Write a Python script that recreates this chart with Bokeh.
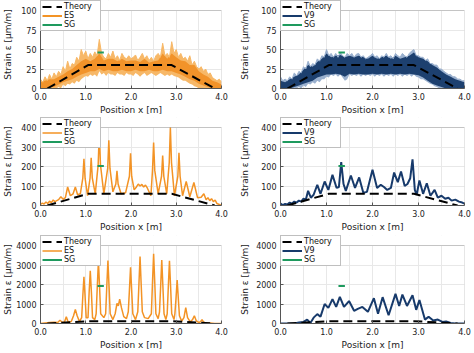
from bokeh.plotting import figure
from bokeh.models import (Range1d, FixedTicker, PrintfTickFormatter, Legend, LegendItem,
                          BoxAnnotation)
from bokeh.layouts import column, row
from bokeh.embed import file_html
from bokeh.resources import INLINE

# ---------------- data ----------------
X_TICKS = [0, 1, 2, 3, 4]
X_GRID = [0, 0.5, 1.0, 1.5, 2.0, 2.5, 3.0, 3.5, 4.0]
Y_TICKS_TOP = [0, 25, 50, 75, 100]
Y_TICKS_MID = [0, 100, 200, 300, 400]
Y_TICKS_BOT = [0, 1000, 2000, 3000, 4000]

theory_x = [0.15, 1.05, 2.90, 3.85]
theory_top = [0, 30, 30, 0]
theory_mid = [0, 60, 60, 0]
theory_bot = [0, 120, 120, 0]

sg_x = [1.26, 1.40]
sg_top = [46, 46]
sg_mid = [203, 203]
sg_bot = [1920, 1920]

# top row: noisy bands sampled every 0.05 m (outer) and 0.1 m (inner)
x_fine = [round(i * 0.05, 2) for i in range(81)]
x_coarse = [round(i * 0.1, 1) for i in range(41)]

es_top_hi = [12, 8, 15, 10, 18, 12, 20, 15, 22, 18,
             28, 22, 35, 25, 32, 30, 40, 35, 50, 42,
             48, 38, 45, 40, 47, 42, 63, 45, 40, 38,
             45, 40, 48, 38, 42, 36, 45, 40, 38, 42,
             38, 40, 43, 36, 40, 45, 38, 42, 36, 40,
             35, 42, 45, 40, 58, 42, 45, 40, 60, 45,
             50, 40, 45, 38, 40, 35, 42, 30, 35, 28,
             25, 28, 22, 25, 18, 20, 14, 12, 10, 12,
             8]
es_top_lo = [0, 0, 0, 0, 0, 0, 0, 0, 2, 0,
             5, 3, 6, 5, 8, 6, 10, 8, 12, 14,
             16, 15, 18, 16, 18, 15, 22, 18, 20, 16,
             20, 18, 18, 16, 20, 18, 18, 16, 20, 18,
             18, 16, 20, 18, 15, 18, 20, 16, 18, 20,
             18, 16, 18, 20, 18, 16, 18, 16, 18, 16,
             15, 14, 12, 10, 10, 8, 6, 5, 3, 2,
             0, 0, 0, 0, 0, 0, 0, 0, 0, 0,
             0]
es_top_hi2 = [8, 10, 12, 12, 15, 18, 22, 25, 30, 35,
              38, 35, 38, 45, 36, 38, 38, 35, 38, 35,
              36, 36, 34, 38, 33, 35, 36, 45, 38, 45,
              40, 36, 35, 30, 30, 22, 18, 15, 10, 8,
              5]
es_top_lo2 = [0, 0, 2, 2, 5, 8, 10, 12, 15, 18,
              20, 22, 22, 25, 22, 24, 22, 22, 24, 22,
              22, 24, 22, 22, 24, 22, 22, 24, 22, 22,
              20, 18, 15, 12, 10, 6, 4, 2, 0, 0,
              0]

v9_top_hi = [15, 10, 12, 10, 15, 12, 20, 16, 22, 20,
             28, 25, 35, 28, 32, 30, 38, 35, 42, 40,
             50, 42, 45, 40, 45, 40, 46, 42, 40, 45,
             42, 45, 40, 44, 45, 40, 42, 38, 40, 42,
             45, 40, 42, 38, 42, 40, 45, 40, 42, 38,
             45, 42, 40, 45, 42, 40, 45, 48, 50, 42,
             42, 40, 40, 36, 38, 32, 32, 30, 30, 25,
             25, 22, 20, 18, 18, 15, 15, 12, 12, 10,
             10]
v9_top_lo = [0, 0, 0, 0, 0, 0, 0, 0, 2, 0,
             4, 2, 6, 5, 8, 6, 10, 8, 12, 12,
             15, 14, 18, 16, 18, 15, 18, 14, 10, 12,
             18, 16, 18, 16, 18, 15, 18, 16, 18, 16,
             18, 15, 18, 16, 18, 15, 18, 16, 18, 15,
             18, 16, 18, 15, 18, 16, 18, 15, 18, 15,
             14, 12, 12, 10, 8, 6, 5, 3, 2, 0,
             0, 0, 0, 0, 0, 0, 0, 0, 0, 0,
             0]
v9_top_hi2 = [10, 8, 12, 15, 18, 24, 30, 28, 34, 38,
              45, 40, 42, 43, 40, 42, 40, 42, 40, 38,
              42, 38, 40, 42, 38, 42, 38, 40, 42, 46,
              40, 38, 35, 30, 27, 22, 18, 15, 12, 10,
              8]
v9_top_lo2 = [0, 0, 0, 2, 4, 6, 8, 10, 14, 16,
              18, 18, 19, 18, 15, 19, 18, 19, 18, 18,
              19, 18, 19, 18, 19, 18, 19, 18, 19, 18,
              17, 14, 10, 6, 4, 2, 0, 0, 0, 0,
              0]

# middle row
es_mid_x = [0.00, 0.04, 0.08, 0.12, 0.16, 0.20, 0.24, 0.28, 0.32, 0.36,
            0.40, 0.45, 0.50, 0.55, 0.60, 0.66, 0.72, 0.77, 0.82, 0.88,
            0.935, 0.96, 0.985, 1.04, 1.095, 1.12, 1.145, 1.21, 1.275, 1.30,
            1.325, 1.40, 1.485, 1.51, 1.535, 1.60, 1.665, 1.69, 1.715, 1.78,
            1.88, 1.965, 1.99, 2.015, 2.07, 2.12, 2.16, 2.20, 2.24, 2.28,
            2.32, 2.36, 2.44, 2.475, 2.50, 2.525, 2.60, 2.675, 2.70, 2.725,
            2.79, 2.845, 2.87, 2.895, 2.96, 3.035, 3.06, 3.085, 3.14, 3.22,
            3.30, 3.39, 3.47, 3.55, 3.61, 3.66, 3.70, 3.74, 3.78, 3.82,
            3.86, 3.90, 3.95, 4.00]
es_mid_y = [5, 12, 8, 18, 10, 22, 15, 28, 20, 25,
            30, 45, 32, 40, 95, 50, 60, 95, 55, 60,
            140, 240, 140, 50, 140, 245, 140, 60, 210, 380,
            210, 60, 190, 335, 190, 70, 110, 178, 110, 60,
            65, 150, 268, 150, 80, 95, 110, 100, 108, 95,
            105, 90, 50, 180, 323, 180, 60, 150, 256, 150,
            60, 220, 400, 220, 50, 150, 270, 150, 50, 123,
            45, 118, 40, 42, 60, 30, 40, 25, 35, 20,
            28, 10, 5, 0]

v9_mid_x = [0.00, 0.05, 0.10, 0.15, 0.20, 0.25, 0.30, 0.35, 0.40, 0.45,
            0.50, 0.55, 0.60, 0.66, 0.72, 0.80, 0.87, 0.96, 1.04, 1.13,
            1.22, 1.27, 1.32, 1.37, 1.42, 1.53, 1.62, 1.71, 1.80, 1.88,
            2.00, 2.10, 2.18, 2.25, 2.32, 2.40, 2.47, 2.55, 2.62, 2.70,
            2.76, 2.82, 2.87, 2.92, 2.96, 3.02, 3.10, 3.18, 3.26, 3.35,
            3.42, 3.50, 3.58, 3.65, 3.72, 3.80, 3.88, 3.95, 4.00]
v9_mid_y = [10, 2, 8, 5, 15, 10, 20, 15, 25, 20,
            35, 30, 75, 40, 55, 106, 60, 123, 80, 157,
            90, 95, 222, 110, 75, 154, 90, 144, 65, 70,
            183, 90, 106, 95, 80, 90, 169, 120, 174, 100,
            110, 140, 237, 80, 55, 128, 60, 114, 50, 80,
            40, 50, 35, 40, 25, 30, 20, 15, 10]

# bottom row
es_bot_x = [0.00, 0.20, 0.30, 0.38, 0.43, 0.48, 0.53, 0.57, 0.61, 0.68,
            0.73, 0.77, 0.81, 0.86, 0.91, 0.935, 0.96, 0.985, 1.01, 1.05,
            1.075, 1.10, 1.125, 1.15, 1.20, 1.23, 1.255, 1.28, 1.305, 1.33,
            1.40, 1.44, 1.465, 1.49, 1.515, 1.54, 1.60, 1.65, 1.69, 1.72,
            1.75, 1.79, 1.84, 1.90, 1.94, 1.965, 1.99, 2.015, 2.04, 2.10,
            2.15, 2.175, 2.20, 2.225, 2.25, 2.30, 2.38, 2.45, 2.475, 2.50,
            2.525, 2.55, 2.60, 2.63, 2.655, 2.68, 2.705, 2.73, 2.77, 2.80,
            2.825, 2.85, 2.875, 2.90, 2.95, 2.97, 2.995, 3.02, 3.045, 3.07,
            3.12, 3.17, 3.21, 3.25, 3.31, 3.36, 3.40, 3.44, 3.50, 3.54,
            3.57, 3.60, 3.65, 3.75, 3.85, 4.00]
es_bot_y = [0, 50, 60, 50, 170, 60, 80, 340, 80, 100,
            400, 720, 400, 100, 300, 1400, 2400, 1400, 300, 300,
            1600, 2700, 1600, 300, 200, 500, 1900, 3200, 1900, 500,
            300, 500, 1900, 3230, 1900, 500, 200, 500, 1030, 900,
            1250, 800, 350, 250, 600, 1700, 2880, 1700, 500, 200,
            600, 2000, 3430, 2000, 600, 300, 250, 500, 2100, 3570,
            2100, 500, 250, 600, 1900, 3260, 1900, 500, 200, 500,
            1900, 3210, 1900, 500, 200, 500, 1300, 2230, 1300, 400,
            120, 300, 810, 300, 80, 200, 395, 150, 50, 100,
            200, 80, 30, 20, 0, 0]

v9_bot_x = [0.00, 0.30, 0.40, 0.50, 0.58, 0.65, 0.72, 0.80, 0.87, 0.96,
            1.04, 1.13, 1.21, 1.29, 1.38, 1.49, 1.60, 1.68, 1.78, 1.90,
            2.03, 2.12, 2.22, 2.35, 2.50, 2.58, 2.65, 2.75, 2.87, 2.95,
            3.02, 3.14, 3.22, 3.32, 3.42, 3.52, 3.60, 3.70, 3.80, 4.00]
v9_bot_y = [0, 0, 50, 80, 200, 30, 300, 480, 350, 1000,
            800, 1250, 850, 1370, 850, 1150, 650, 750, 850, 600,
            1300, 500, 1350, 420, 1520, 900, 1480, 900, 1450, 700,
            1200, 200, 350, 150, 200, 80, 100, 30, 0, 0]

# ---------------- style ----------------
FONT = "DejaVu Sans"
ES_C = "#F39325"
ES_OUT = "#F7B868"
ES_IN = "#F2932A"
V9_C = "#173A6B"
V9_OUT = "#9AB0CE"
V9_IN = "#1D406F"
SG_C = "#1E9A5E"
FRAME_C = "#555555"

PLOT_H = 78      # height in px of the drawn plot area
EXTRA_TOP = 10   # white strip above the plot area where the legend sits


def make_fig(col, height, bbot, ymax, yticks, ms, als):
    bl, br = (40, 16) if col == 0 else (43, 10)
    if col == 1:
        als += 3
    ytop = ymax * (PLOT_H + EXTRA_TOP) / PLOT_H
    p = figure(width=237, height=height, x_range=Range1d(0, 4), y_range=Range1d(0, ytop),
               output_backend="svg", toolbar_location=None,
               min_border_top=0, min_border_bottom=bbot,
               min_border_left=bl, min_border_right=br)
    p.background_fill_color = "white"
    p.border_fill_color = "white"
    p.outline_line_color = None
    for ax in (p.xaxis[0], p.yaxis[0]):
        ax.axis_line_color = FRAME_C
        ax.major_tick_line_color = FRAME_C
        ax.major_tick_in = 3
        ax.major_tick_out = 0
        ax.minor_tick_line_color = None
        ax.major_label_text_font = FONT
        ax.major_label_text_font_size = "8px"
        ax.major_label_text_color = "#222222"
        ax.axis_label_text_font = FONT
        ax.axis_label_text_font_size = "9px"
        ax.axis_label_text_font_style = "normal"
        ax.axis_label_text_color = "#222222"
    p.xaxis.axis_label = "Position x [m]"
    p.xaxis.ticker = FixedTicker(ticks=X_TICKS)
    p.xaxis.formatter = PrintfTickFormatter(format="%.1f")
    p.xaxis.major_label_standoff = 4
    p.xaxis.axis_label_standoff = 2
    p.yaxis.axis_label = "Strain ε [μm/m]"
    p.yaxis.ticker = FixedTicker(ticks=yticks)
    p.yaxis.bounds = (0, ymax)
    p.yaxis.major_label_standoff = ms
    p.yaxis.axis_label_standoff = als
    p.xgrid.ticker = FixedTicker(ticks=X_GRID)
    p.ygrid.ticker = FixedTicker(ticks=yticks)
    p.grid.grid_line_color = "#e8e8e8"
    p.grid.grid_line_width = 1
    # white strip above the plot area (covers grid lines)
    p.add_layout(BoxAnnotation(bottom=ymax, fill_color="white", fill_alpha=1,
                               line_alpha=0, level="underlay"))
    return p


def finish(p, name, main_r, theory, sg, ymax):
    tr = p.line(theory_x, theory, line_color="black", line_width=2, line_dash="9 5")
    sr = p.line(sg_x, sg, line_color=SG_C, line_width=2)
    # frame border of the plot area
    p.add_layout(BoxAnnotation(left=0, right=4, bottom=0, top=ymax, fill_alpha=0,
                               line_color=FRAME_C, line_width=1))
    leg = Legend(items=[LegendItem(label="Theory", renderers=[tr]),
                        LegendItem(label=name, renderers=[main_r]),
                        LegendItem(label="SG", renderers=[sr])],
                 location="top_left", label_text_font=FONT, label_text_font_size="8px",
                 label_text_color="#111111",
                 label_height=9, glyph_height=9, glyph_width=20, spacing=0,
                 padding=1, margin=0, label_standoff=2, label_width=35,
                 border_line_color="#808080", border_line_width=1,
                 background_fill_color="white", background_fill_alpha=1)
    p.add_layout(leg)


def top_panel(col, name, out_c, in_c, line_c, hi, lo, hi2, lo2):
    p = make_fig(col, 117, 29, 100, Y_TICKS_TOP, 4, 5)
    p.varea(x=x_fine, y1=lo, y2=hi, fill_color=out_c)
    p.varea(x=x_coarse, y1=lo2, y2=hi2, fill_color=in_c)
    p.line(x_fine, hi, line_color=out_c, line_width=1)
    mr = p.line([float("nan")], [float("nan")], line_color=line_c, line_width=2)
    finish(p, name, mr, theory_top, sg_top, 100)
    return p


def line_panel(col, name, color, xs, ys, ymax, yticks, theory, sg, ms, als, lw):
    p = make_fig(col, 118, 30, ymax, yticks, ms, als)
    mr = p.line(xs, ys, line_color=color, line_width=lw)
    finish(p, name, mr, theory, sg, ymax)
    return p


p1 = top_panel(0, "ES", ES_OUT, ES_IN, ES_C, es_top_hi, es_top_lo, es_top_hi2, es_top_lo2)
p2 = top_panel(1, "V9", V9_OUT, V9_IN, V9_C, v9_top_hi, v9_top_lo, v9_top_hi2, v9_top_lo2)
p3 = line_panel(0, "ES", ES_C, es_mid_x, es_mid_y, 400, Y_TICKS_MID, theory_mid, sg_mid, 4, 5, 1.5)
p4 = line_panel(1, "V9", V9_C, v9_mid_x, v9_mid_y, 400, Y_TICKS_MID, theory_mid, sg_mid, 4, 5, 2)
p5 = line_panel(0, "ES", ES_C, es_bot_x, es_bot_y, 4000, Y_TICKS_BOT, theory_bot, sg_bot, 4, 0, 1.5)
p6 = line_panel(1, "V9", V9_C, v9_bot_x, v9_bot_y, 4000, Y_TICKS_BOT, theory_bot, sg_bot, 4, 0, 2)

layout = column(row(p1, p2), row(p3, p4), row(p5, p6))
open("out.html", "w").write(file_html(layout, INLINE))
